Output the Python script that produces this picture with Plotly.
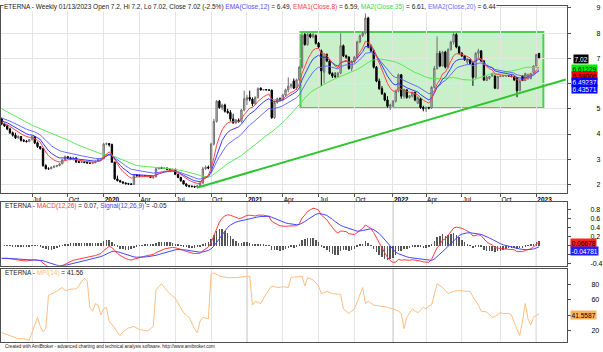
import pandas as pd
import numpy as np
import plotly.graph_objects as go

# ---------------- data (weekly bars) ----------------
start_date = "2019-04-19"
opens = [4.60,4.40,4.32,4.20,4.05,3.95,3.85,3.90,3.75,3.72,3.70,3.78,3.90,3.65,3.50,3.42,2.75,2.62,2.62,2.68,
         2.72,2.75,2.82,2.97,3.10,3.05,3.02,3.05,2.90,2.88,2.90,2.87,2.85,2.84,2.86,2.92,3.00,3.02,3.60,3.62,
         3.58,2.88,2.22,2.15,2.10,2.06,2.03,2.02,2.00,2.38,2.35,2.33,2.35,2.32,2.33,2.28,2.30,2.62,2.66,2.64,
         2.65,2.60,2.58,2.60,2.40,2.28,2.15,2.02,1.95,1.93,1.92,1.90,1.95,2.05,2.62,2.68,2.65,3.60,4.50,5.30,
         5.05,5.15,4.90,4.85,4.60,4.45,4.55,4.50,4.95,5.35,5.45,5.38,5.20,5.45,5.82,5.75,5.76,5.75,5.74,4.65,
         5.25,5.40,5.35,5.55,5.75,5.90,6.10,5.82,6.15,6.65,7.95,7.55,7.95,7.85,7.90,7.60,7.30,6.45,7.15,6.90,
         6.40,6.30,6.28,6.42,7.50,7.10,7.05,6.60,6.88,7.05,7.65,7.90,8.00,8.60,7.45,7.30,6.65,6.10,5.80,5.60,
         5.35,5.10,5.10,5.30,5.70,6.35,5.50,5.75,5.45,5.50,5.65,5.22,5.40,5.05,5.00,5.05,5.03,5.85,6.60,7.20,
         6.70,7.25,6.65,7.35,7.65,7.95,7.45,7.20,7.10,6.85,6.95,6.80,6.25,7.20,7.30,6.90,6.12,6.20,6.30,6.30,
         5.80,6.28,6.30,6.30,6.31,6.30,6.28,6.24,5.72,6.30,6.12,6.20,6.20,6.43,6.70,7.20]
highs = [4.65,4.45,4.36,4.25,4.10,4.05,3.95,3.92,3.80,3.76,3.80,3.95,3.92,3.70,3.52,3.45,2.80,2.68,2.72,2.75,
         2.78,2.85,3.00,3.15,3.12,3.10,3.10,3.08,2.95,2.93,2.92,2.90,2.88,2.90,2.95,3.05,3.05,3.65,3.66,3.64,
         3.62,2.90,2.35,2.18,2.12,2.08,2.06,2.05,2.40,2.40,2.38,2.37,2.37,2.35,2.35,2.32,2.65,2.70,2.70,2.68,
         2.67,2.63,2.62,2.62,2.42,2.30,2.17,2.05,1.98,1.96,1.95,1.98,2.10,2.70,2.75,2.75,3.65,4.60,5.35,5.35,
         5.20,5.20,5.00,4.95,4.80,4.60,4.62,5.00,5.72,5.55,5.72,5.45,5.50,5.85,5.85,5.77,5.78,5.77,5.76,5.30,
         5.45,5.45,5.60,5.80,6.25,6.00,6.20,6.20,6.70,8.00,8.00,8.02,8.00,8.00,7.95,7.65,7.35,7.20,7.20,6.95,
         6.45,6.45,6.45,8.00,7.55,7.15,7.08,6.92,7.10,7.70,7.95,8.05,8.78,8.65,7.55,7.35,6.70,6.20,5.90,5.65,
         5.50,5.20,5.35,5.75,6.40,6.38,5.80,5.78,5.55,5.68,5.68,5.50,5.42,5.12,5.10,5.08,5.90,6.70,7.87,7.30,
         7.30,7.30,7.40,7.70,8.02,8.00,7.50,7.25,7.12,7.00,6.98,6.90,7.25,7.38,7.32,6.92,6.30,6.30,6.43,6.32,
         6.30,6.32,6.33,6.33,6.34,6.32,6.30,6.26,6.12,6.32,6.43,6.40,6.43,6.72,7.18,7.20]
lows = [4.35,4.28,4.15,4.00,3.90,3.80,3.80,3.70,3.68,3.66,3.68,3.75,3.60,3.45,3.38,2.70,2.60,2.58,2.60,2.65,
        2.68,2.72,2.80,2.95,3.00,2.98,2.95,2.85,2.85,2.85,2.84,2.83,2.82,2.82,2.84,2.90,2.95,3.00,3.55,3.50,
        2.85,2.18,2.12,2.08,2.03,2.00,1.98,1.98,1.98,2.30,2.30,2.30,2.30,2.28,2.25,2.22,2.28,2.60,2.62,2.60,
        2.58,2.56,2.55,2.38,2.25,2.10,2.00,1.90,1.88,1.88,1.86,1.86,1.93,2.03,2.58,2.60,2.62,3.55,4.45,5.00,
        4.95,4.85,4.80,4.50,4.40,4.40,4.45,4.45,4.90,5.15,5.30,5.10,5.15,5.40,5.72,5.73,5.73,5.72,4.60,4.60,
        5.20,5.30,5.30,5.50,5.65,5.80,5.78,5.75,6.10,6.60,7.50,7.50,7.80,7.80,7.55,7.40,5.90,6.00,6.85,6.35,
        6.22,6.22,6.24,6.37,7.05,6.98,6.55,6.50,6.80,7.00,7.60,7.85,7.95,7.40,7.25,6.60,6.05,5.75,5.55,5.30,
        5.05,4.95,5.05,5.25,5.65,5.40,5.40,5.40,5.40,5.45,5.30,5.20,5.00,4.90,4.87,4.98,5.00,5.80,6.55,6.65,
        6.68,6.60,6.60,7.30,7.55,7.40,7.15,7.05,6.90,6.75,6.75,5.91,6.20,7.00,6.85,6.10,6.10,6.15,6.28,5.78,
        5.78,6.25,6.26,6.27,6.27,6.25,6.10,5.46,5.70,6.10,6.10,6.15,6.17,6.40,6.68,7.02]
closes = [4.40,4.32,4.20,4.05,3.95,3.85,3.90,3.75,3.72,3.70,3.78,3.90,3.65,3.50,3.42,2.75,2.62,2.62,2.68,2.72,
          2.75,2.82,2.97,3.10,3.05,3.02,3.05,2.90,2.88,2.90,2.87,2.85,2.84,2.86,2.92,3.00,3.02,3.60,3.62,3.58,
          2.88,2.22,2.15,2.10,2.06,2.03,2.02,2.00,2.38,2.35,2.33,2.35,2.32,2.33,2.28,2.30,2.62,2.66,2.64,2.65,
          2.60,2.58,2.60,2.40,2.28,2.15,2.02,1.95,1.93,1.92,1.90,1.95,2.05,2.62,2.68,2.65,3.60,4.50,5.30,5.05,
          5.15,4.90,4.85,4.60,4.45,4.55,4.50,4.95,5.40,5.45,5.38,5.20,5.45,5.80,5.75,5.76,5.75,5.74,4.65,5.25,
          5.40,5.35,5.55,5.75,5.90,5.95,5.82,6.15,6.65,7.90,7.55,7.95,7.85,7.95,7.60,7.45,6.50,7.10,6.90,6.40,
          6.30,6.28,6.42,7.50,7.10,7.05,6.60,6.88,7.05,7.65,7.90,8.00,8.60,7.45,7.30,6.65,6.10,5.80,5.60,5.35,
          5.10,5.15,5.30,5.70,6.35,5.50,5.75,5.45,5.52,5.65,5.35,5.45,5.05,5.00,5.05,5.03,5.85,6.60,7.20,6.70,
          7.25,6.65,7.35,7.65,7.95,7.45,7.20,7.10,6.95,6.95,6.80,6.25,7.20,7.30,6.90,6.15,6.25,6.28,6.40,5.82,
          6.28,6.30,6.30,6.31,6.30,6.28,6.15,5.72,6.10,6.12,6.40,6.35,6.40,6.70,7.15,7.02]

# indicator values at the first bar (history before the window)
ema8_start, ema12_start, ema20_start, ema26_start, signal_start = 4.45, 4.52, 4.63, 4.81, -0.29
ma35_head_weeks = [0, 6, 11, 16, 20, 24, 28, 32]
ma35_head_vals = [5.00, 4.65, 4.35, 4.12, 3.95, 3.76, 3.55, 3.38]

# MFI(14) (week index, value)
mfi_weeks = [0,2,4,6,8,10,11,13,14,15,16,17,19,20,22,23,25,27,28,29,30,31,32,33,34,35,36,37,38,39,40,41,42,43,44,
             46,48,50,53,54,55,56,58,59,60,61,63,64,66,67,68,70,71,72,73,74,75,76,77,79,82,85,87,89,90,91,92,94,
             96,98,100,102,104,105,106,108,109,110,111,113,114,115,116,118,120,123,124,126,128,130,131,132,133,
             135,137,140,142,144,145,146,147,149,151,153,154,155,156,157,158,160,162,164,166,169,170,171,172,
             173,174,176,178,179,181,182,184,185,186,187,188,189,190,191,192,193,195]
mfi_vals = [17,14,11,9,9,7,17,37,25,18,22,66,69,71,76,72,74,74,78,84,88,85,50,45,55,53,40,48,50,32,28,23,17,13,18,
            23,25,21,19,22,25,73,81,76,72,68,62,55,43,40,37,22,17,32,37,36,35,94,95,91,89,89,90,91,91,53,58,55,
            68,78,76,77,76,89,90,90,91,78,89,86,82,78,68,71,68,67,48,42,48,68,76,55,58,
            53,52,50,48,45,42,22,37,48,43,50,48,52,53,68,81,76,68,71,72,71,71,64,58,
            53,45,44,37,38,43,42,42,40,30,22,13,32,55,35,27,37,41.56]

# drawn objects (trend line and rectangle anchors: date, price)
trend_dates = ["2020-08-27", "2023-03-22"]
trend_prices = [1.87, 6.16]
rect_dates = ["2021-05-17", "2023-01-24"]
rect_prices = [5.03, 8.05]

tick_dates = ["2019-07-05", "2019-10-04", "2020-01-03", "2020-04-03", "2020-07-03", "2020-10-02",
              "2021-01-01", "2021-04-02", "2021-07-02", "2021-10-01", "2022-01-07", "2022-04-01",
              "2022-07-01", "2022-10-07", "2023-01-06"]
tick_labels = ["Jul", "Oct", "<b>2020</b>", "Apr", "Jul", "Oct", "<b>2021</b>", "Apr", "Jul", "Oct",
               "<b>2022</b>", "Apr", "Jul", "Oct", "<b>2023</b>"]
year_ticks = ["2020-01-03", "2021-01-01", "2022-01-07", "2023-01-06"]

price_ticks = [2, 3, 4, 5, 6, 7, 8, 9]
price_ticktext = ["2", "3", "4", "5", "", "7", "8", "9"]          # "6" is hidden behind the value tags
macd_ticks = [-0.4, -0.2, 0, 0.2, 0.4, 0.6, 0.8]
macd_ticktext = ["-0.4", "", "", "0.2", "0.4", "0.6", "0.8"]     # 0 / -0.2 hidden behind tags
mfi_ticks = [20, 40, 60, 80]
mfi_ticktext = ["20", "", "60", "80"]                            # 40 hidden behind tag

# ---------------- derived series ----------------
dates = pd.date_range(start_date, periods=len(closes), freq="7D")
c = np.array(closes, dtype=float)


def ema(vals, n, first):
    a = 2.0 / (n + 1)
    out = [first]
    for v in vals[1:]:
        out.append(out[-1] + a * (v - out[-1]))
    return np.array(out)


ema8 = ema(c, 8, ema8_start)
ema12 = ema(c, 12, ema12_start)
ema20 = ema(c, 20, ema20_start)
ema26 = ema(c, 26, ema26_start)
macd = ema12 - ema26
signal = ema(macd, 9, signal_start)
hist = macd - signal

ma35_idx = list(ma35_head_weeks) + list(range(34, len(c)))
ma35_val = list(ma35_head_vals) + [c[i - 34:i + 1].mean() for i in range(34, len(c))]
ma35_x = [dates[i] for i in ma35_idx]
mfi_x = [dates[i] for i in mfi_weeks]

# ---------------- figure ----------------
W, H = 603, 352
FONT = "Liberation Sans"


def py(p):  # pixel row -> paper y
    return 1 - p / H


t0 = pd.Timestamp(start_date)
x_range = [t0 + pd.Timedelta(days=-0.25 * 7), t0 + pd.Timedelta(days=205.15 * 7)]

fig = go.Figure()
fig.add_trace(go.Candlestick(
    x=dates, open=opens, high=highs, low=lows, close=closes,
    increasing=dict(line=dict(color="#707070", width=1), fillcolor="#cacaca"),
    decreasing=dict(line=dict(color="#000000", width=1), fillcolor="#000000"),
    whiskerwidth=0, xaxis="x", yaxis="y", hoverinfo="skip"))
fig.add_trace(go.Scatter(x=ma35_x, y=ma35_val, mode="lines", line=dict(color="#5ce65c", width=1), xaxis="x", yaxis="y"))
fig.add_trace(go.Scatter(x=dates, y=ema20, mode="lines", line=dict(color="#6a6aff", width=1), xaxis="x", yaxis="y"))
fig.add_trace(go.Scatter(x=dates, y=ema12, mode="lines", line=dict(color="#3a3aff", width=1), xaxis="x", yaxis="y"))
fig.add_trace(go.Scatter(x=dates, y=ema8, mode="lines", line=dict(color="#ff4545", width=1), xaxis="x", yaxis="y"))
fig.add_trace(go.Scatter(x=trend_dates, y=trend_prices, mode="lines", line=dict(color="#2fc42f", width=2),
                         xaxis="x", yaxis="y", cliponaxis=True))

# MACD pane
fig.add_trace(go.Bar(x=dates, y=hist, width=1.3 * 86400000, marker=dict(color="#555555", line=dict(width=0)),
                     xaxis="x2", yaxis="y2"))
fig.add_trace(go.Scatter(x=dates, y=macd, mode="lines", line=dict(color="#ff3c3c", width=1), xaxis="x2", yaxis="y2"))
fig.add_trace(go.Scatter(x=dates, y=signal, mode="lines", line=dict(color="#4545ff", width=1), xaxis="x2", yaxis="y2"))

# MFI pane
fig.add_trace(go.Scatter(x=mfi_x, y=mfi_vals, mode="lines", line=dict(color="#ffbd80", width=1), xaxis="x3", yaxis="y3"))

grid = "#e4e4e4"
frame = "#505050"
common_x = dict(type="date", range=x_range, tickvals=tick_dates, showgrid=True, gridcolor=grid, gridwidth=1,
                showline=True, linecolor=frame, linewidth=1, mirror=True, zeroline=False)

main_top, main_bot = 4, 193
macd_top, macd_bot = 201.5, 266
mfi_top, mfi_bot = 269.5, 343

fig.update_layout(
    width=W, height=H, margin=dict(l=1, r=35, t=0, b=0, pad=0),
    paper_bgcolor="white", plot_bgcolor="white", showlegend=False, hovermode=False,
    font=dict(family=FONT, size=7, color="#000"),
    bargap=0,
    xaxis=dict(**common_x, domain=[0, 1], anchor="y", ticktext=tick_labels, ticks="outside", ticklen=3,
               tickcolor=frame, ticklabelposition="outside right", tickfont=dict(size=6.5, family=FONT),
               rangeslider=dict(visible=False)),
    xaxis2=dict(**common_x, domain=[0, 1], anchor="y2", matches="x", showticklabels=False, ticks=""),
    xaxis3=dict(**common_x, domain=[0, 1], anchor="y3", matches="x", showticklabels=False, ticks=""),
    yaxis=dict(domain=[py(main_bot), py(main_top)], range=[9 - (main_bot - 6) / 25.43, 9 + (6 - main_top) / 25.43],
               side="right", tickvals=price_ticks, ticktext=price_ticktext, showgrid=True, gridcolor=grid, zeroline=False,
               showline=True, linecolor=frame, mirror=True, ticks="outside", ticklen=3, tickcolor=frame,
               ticklabelstandoff=24, tickfont=dict(size=7), anchor="x"),
    yaxis2=dict(domain=[py(macd_bot), py(macd_top)], range=[-(macd_bot - 245.5) / 45, (245.5 - macd_top) / 45],
                side="right", tickvals=macd_ticks, ticktext=macd_ticktext,
                showgrid=False, zeroline=False, showline=True, linecolor=frame, mirror=True, ticks="outside",
                ticklen=3, tickcolor=frame, ticklabelstandoff=18, tickfont=dict(size=7), anchor="x2"),
    yaxis3=dict(domain=[py(mfi_bot), py(mfi_top)], range=[(346.5 - mfi_bot) / 0.77, (346.5 - mfi_top) / 0.77],
                side="right", tickvals=mfi_ticks, ticktext=mfi_ticktext, showgrid=False, zeroline=False, showline=True,
                linecolor=frame, mirror=True, ticks="outside", ticklen=3, tickcolor=frame,
                ticklabelstandoff=19, tickfont=dict(size=7), anchor="x3"),
)

fig.add_shape(type="rect", xref="x", yref="y", x0=rect_dates[0], x1=rect_dates[1], y0=rect_prices[0], y1=rect_prices[1],
              fillcolor="#c9f0c9", line=dict(color="#4ccf4c", width=2), layer="below")
# darker year separators in the indicator panes
for yd in year_ticks:
    for xr, yr in (("x2", "y2 domain"), ("x3", "y3 domain")):
        fig.add_shape(type="line", xref=xr, yref=yr, x0=yd, x1=yd, y0=0, y1=1,
                      line=dict(color="#b4b4b4", width=1), layer="below")

ann = []
title_main = ("ETERNA - Weekly 01/13/2023 Open 7.2, Hi 7.2, Lo 7.02, Close 7.02 (-2.5%) "
              "<span style='color:#4b4bff'>EMA(Close,12)</span> = 6.49, "
              "<span style='color:#ff3c3c'>EMA1(Close,8)</span> = 6.59, "
              "<span style='color:#3fd43f'>MA2(Close,35)</span> = 6.61, "
              "<span style='color:#6a6aff'>EMA2(Close,20)</span> = 6.44")
ann.append(dict(text=title_main, x=0, y=py(5), xref="paper", yref="paper", xanchor="left", yanchor="middle",
                xshift=2, showarrow=False, bgcolor="white", borderpad=0, font=dict(size=6.5, family=FONT, color="#222")))
ann.append(dict(text="ETERNA - <span style='color:#ff3c3c'>MACD(12,26)</span> = 0.07, "
                     "<span style='color:#4545ff'>Signal(12,26,9)</span> = -0.05",
                x=0, y=py(206), xref="paper", yref="paper", xanchor="left", yanchor="middle", xshift=2,
                showarrow=False, font=dict(size=6.5, family=FONT, color="#222")))
ann.append(dict(text="ETERNA - <span style='color:#ffbd80'>MFI(14)</span> = 41.56",
                x=0, y=py(273.5), xref="paper", yref="paper", xanchor="left", yanchor="middle", xshift=2,
                showarrow=False, font=dict(size=6.5, family=FONT, color="#222")))
ann.append(dict(text="Created with AmiBroker - advanced charting and technical analysis software. http://www.amibroker.com",
                x=0, y=py(347.5), xref="paper", yref="paper", xanchor="left", yanchor="middle", xshift=2,
                showarrow=False, font=dict(size=4.6, family=FONT, color="#222")))

# value tags on the right
tags = [("7.02", 57, "#000000", "#ffffff", 6),
        ("6.61229", 68, "#00ee00", "#000000", 4),
        ("6.59006", 74.5, "#ff0000", "#000000", 4),
        ("6.49237", 81, "#0000ff", "#ffffff", 4),
        ("6.43571", 87.5, "#0000ff", "#ffffff", 4),
        ("0.06678", 243, "#ff2020", "#000000", 3),
        ("-0.04781", 251, "#1f1fff", "#ffffff", 3),
        ("41.5587", 316, "#ffb060", "#000000", 3)]
for txt, ypx, bg, fg, xs in tags:
    ann.append(dict(text=txt, x=1, y=py(ypx), xref="paper", yref="paper", xanchor="left", yanchor="middle",
                    xshift=xs, showarrow=False, bgcolor=bg, borderpad=0.5, font=dict(size=6.6, family=FONT, color=fg)))
fig.update_layout(annotations=ann)

fig.write_html("out.html")
